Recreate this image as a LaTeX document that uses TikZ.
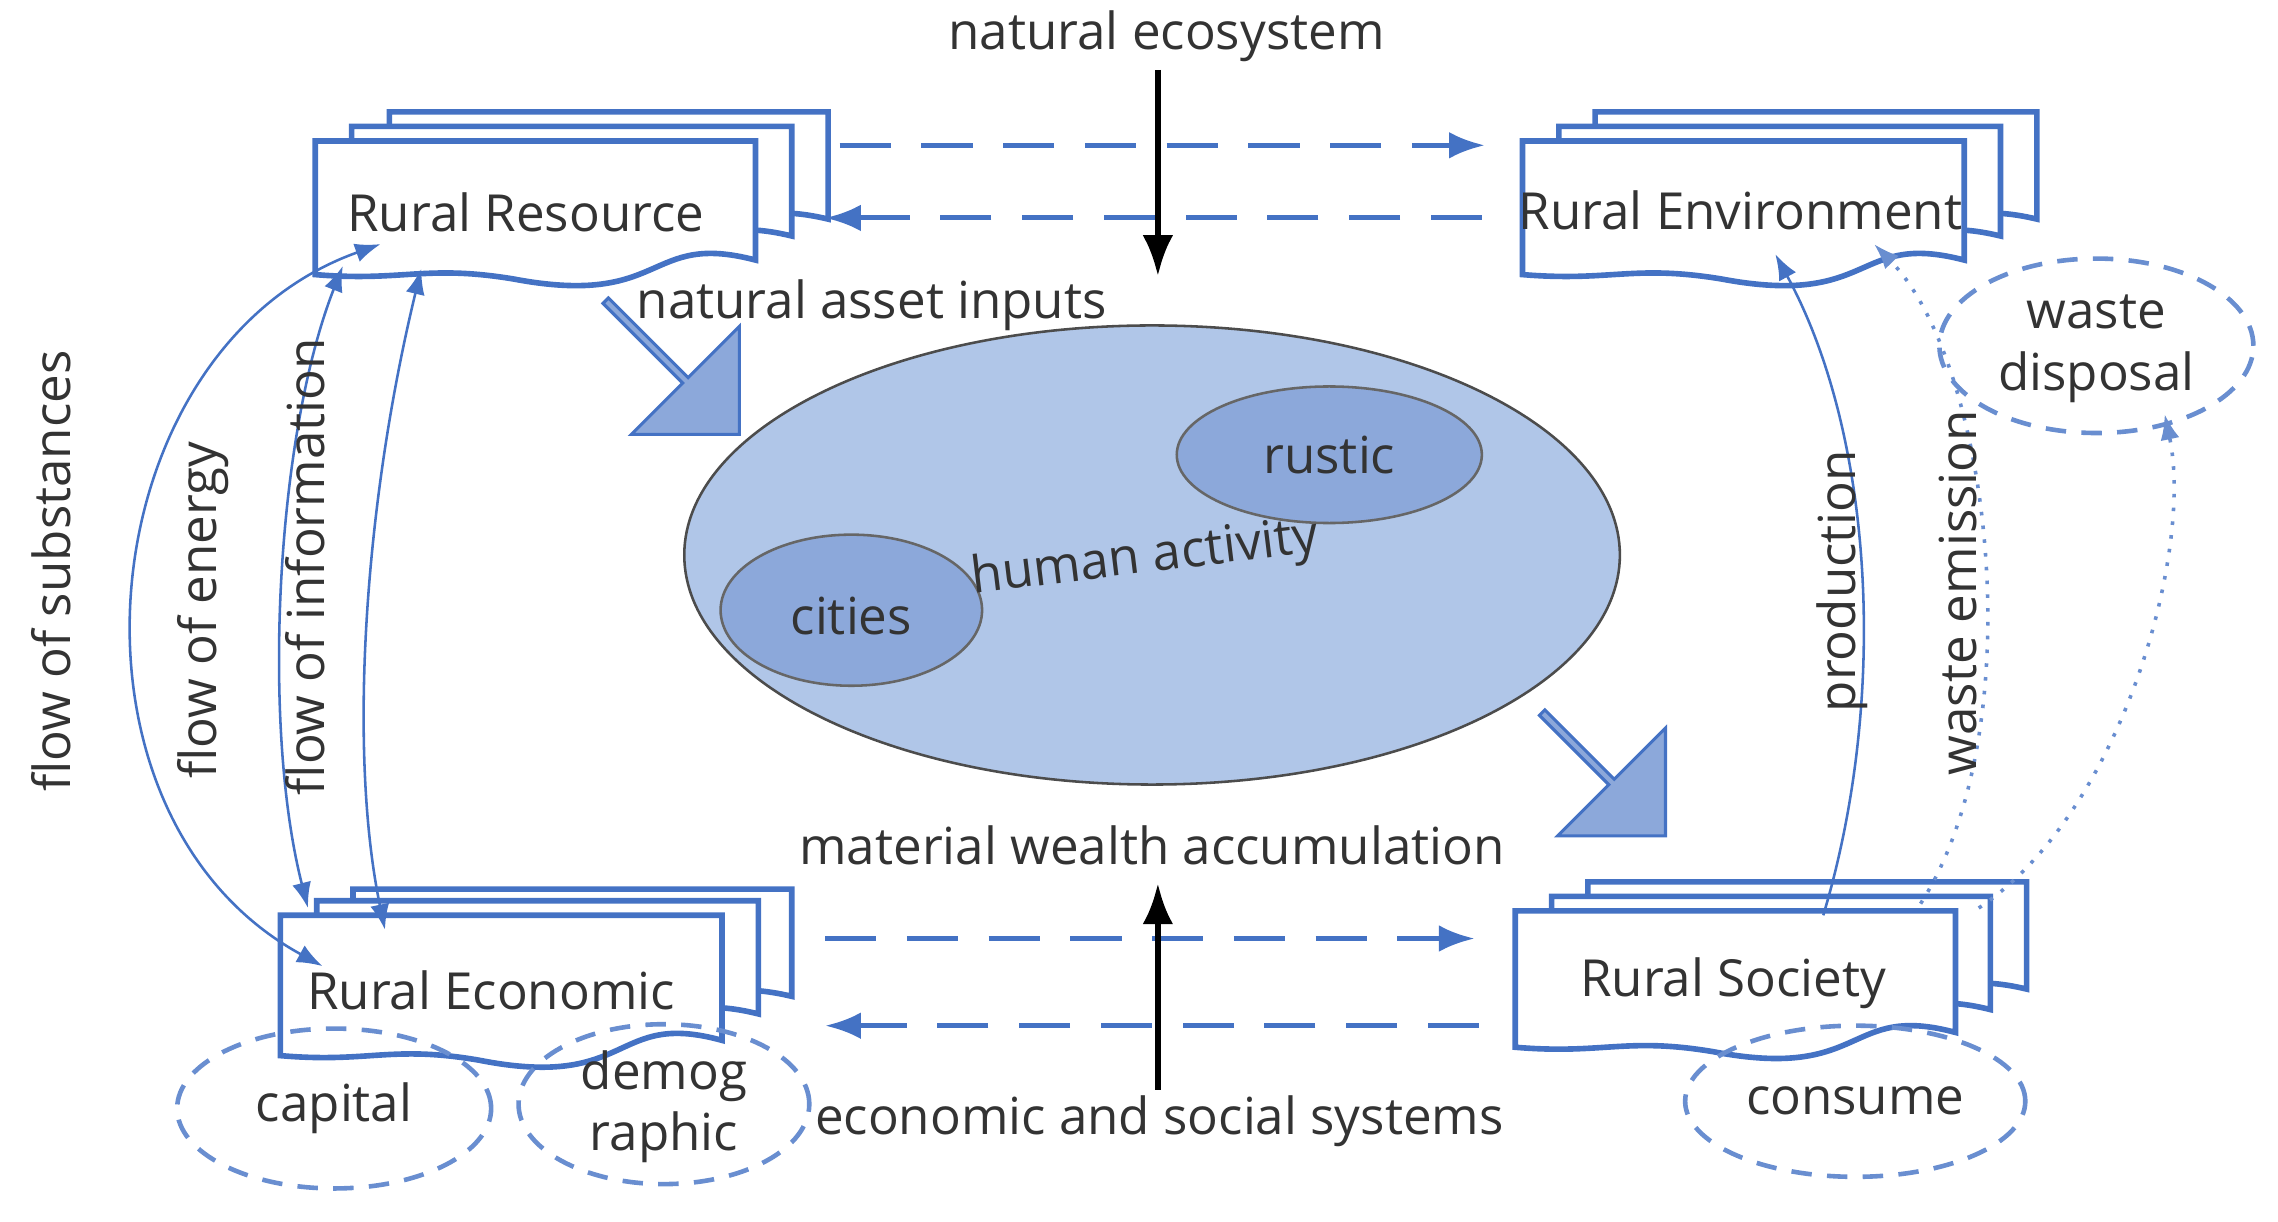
\documentclass[tikz,border=0pt]{standalone}
\usepackage{fontspec}
\setmainfont{Open Sans}
\usetikzlibrary{shapes.arrows,shapes.geometric,arrows.meta,calc}
\definecolor{bl}{RGB}{68,114,196}
\definecolor{lb}{RGB}{176,198,232}
\definecolor{mb}{RGB}{140,168,218}
\newcommand\docshape[4]{%
\draw[bl,line width=1.1pt,fill=white] (#1,#2) -- ++(#3,0) -- ++(0,0.82*#4) .. controls +(-0.25*#3,-0.2*#4) and +(0.35*#3,0.2*#4) .. ($(#1,#2)+(0.45*#3,0.95*#4)$) .. controls +(-0.2*#3,-0.1*#4) and +(0.2*#3,0.05*#4) .. ($(#1,#2)+(0,0.92*#4)$) -- cycle;}
\tikzset{lbl/.style={font=\fontsize{10}{12}\selectfont,text=black!80},
dasharr/.style={bl,line width=1pt,dash pattern=on 10pt off 6pt,-{Latex[length=7pt]}},
thin/.style={bl,line width=0.5pt,{Latex[length=5pt]}-{Latex[length=5pt]}},
dell/.style={bl!80,line width=0.9pt,dash pattern=on 4pt off 3pt,draw}}
\begin{document}
\begin{tikzpicture}[x=0.01cm,y=-0.01cm]
\useasboundingbox (0,0) rectangle (1568,841);
% documents
\docshape{268}{77}{302}{90}\docshape{242}{87}{303}{92}\docshape{217}{97}{303}{100}
\docshape{1098}{77}{304}{90}\docshape{1073}{87}{304}{92}\docshape{1048}{97}{304}{100}
\docshape{243}{612}{302}{90}\docshape{218}{620}{304}{95}\docshape{193}{630}{304}{105}
\docshape{1093}{607}{302}{90}\docshape{1068}{617}{302}{95}\docshape{1043}{627}{303}{102}
\node[lbl] (res) at (362,146) {Rural Resource};
\node[lbl] (env) at (1198,145) {Rural Environment};
\node[lbl] (eco) at (338,682) {Rural Economic};
\node[lbl] (soc) at (1193,677) {Rural Society};
% ellipses
\draw[black!70,fill=lb,line width=0.5pt] (793,382) ellipse (322 and 158);
\draw[black!60,fill=mb,line width=0.5pt] (915,313) ellipse (105 and 47);
\draw[black!60,fill=mb,line width=0.5pt] (586,420) ellipse (90 and 52);
\node[lbl] (rustic) at (915,313) {rustic};
\node[lbl] (cities) at (586,424) {cities};
\node[lbl,rotate=7] (human) at (788,385) {human activity};
% big arrows
\node[single arrow,fill=mb,draw=bl,line width=0.6pt,rotate=-45,minimum height=1.3cm,minimum width=1.05cm,single arrow head extend=0.2cm,inner sep=0pt] (a1) at (462,252) {};
\node[single arrow,fill=mb,draw=bl,line width=0.6pt,rotate=-45,minimum height=1.2cm,minimum width=1.05cm,single arrow head extend=0.2cm,inner sep=0pt] (a2) at (1103,532) {};
% dashed arrows
\coordinate (d1a) at (578,100); \coordinate (d1b) at (1022,100);
\coordinate (d2a) at (1020,150); \coordinate (d2b) at (568,150);
\coordinate (d3a) at (568,646); \coordinate (d3b) at (1015,646);
\coordinate (d4a) at (1018,706); \coordinate (d4b) at (568,706);
\draw[dasharr] (d1a)--(d1b); \draw[dasharr] (d2a)--(d2b);
\draw[dasharr] (d3a)--(d3b); \draw[dasharr] (d4a)--(d4b);
% black arrows
\node[lbl] (ne) at (803,25) {natural ecosystem};
\coordinate (ne2) at (797,190);
\draw[line width=1.2pt,-{Latex[length=8pt]}] (797,48) -- (ne2);
\node[lbl] (es) at (798,772) {economic and social systems};
\coordinate (mw2) at (797,608);
\draw[line width=1.2pt,-{Latex[length=8pt]}] (797,750) -- (mw2);
\node[lbl] (mw) at (793,582) {material wealth accumulation};
\node[lbl] (nai) at (600,210) {natural asset inputs};
% dashed ellipses
\node[dell,ellipse,minimum width=2.16cm,minimum height=1.1cm] (cap) at (230,763) {};
\node[lbl] at (230,763) {capital};
\node[dell,ellipse,minimum width=2cm,minimum height=1.1cm] (dem) at (457,760) {};
\node[lbl,align=center] at (457,762) {demog\\raphic};
\node[dell,ellipse,minimum width=2.34cm,minimum height=1.04cm] (con) at (1277,758) {};
\node[lbl] at (1277,758) {consume};
\node[dell,ellipse,minimum width=2.16cm,minimum height=1.2cm] (wd) at (1443,238) {};
\node[lbl,align=center] at (1443,240) {waste\\disposal};
% left flows
\draw[thin] (262,168) .. controls (60,240) and (30,560) .. (222,665);
\draw[thin] (236,183) .. controls (190,300) and (180,500) .. (212,625);
\draw[thin] (290,185) .. controls (250,350) and (240,520) .. (265,640);
\node[lbl,rotate=90] at (35,393) {flow of substances};
\node[lbl,rotate=90] at (140,420) {flow of energy};
\node[lbl,rotate=90] at (210,390) {flow of information};
% right flows
\draw[bl,line width=0.5pt,-{Latex[length=5pt]}] (1255,630) .. controls (1300,480) and (1290,300) .. (1222,175);
\draw[bl!80,line width=0.7pt,dotted,-{Latex[length=5pt]}] (1322,622) .. controls (1400,500) and (1370,250) .. (1290,168);
\draw[bl!80,line width=0.7pt,dotted,-{Latex[length=5pt]}] (1362,625) .. controls (1460,560) and (1510,380) .. (1490,285);
\node[lbl,rotate=90] at (1268,400) {production};
\node[lbl,rotate=90] at (1348,408) {waste emission};
\end{tikzpicture}
\end{document}
